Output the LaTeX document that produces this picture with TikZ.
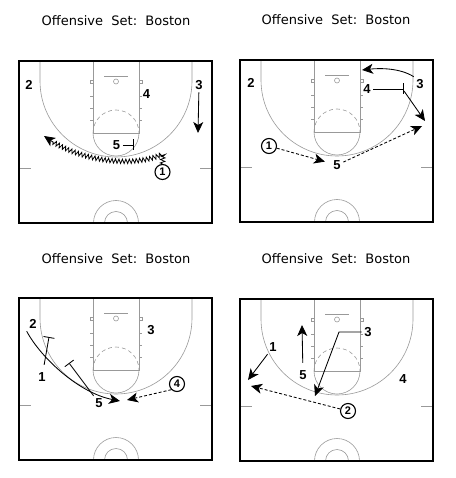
\documentclass[tikz,border=0pt]{standalone}
\usepackage{fontspec}
\setmainfont{DejaVu Sans}
\newfontfamily\numfont{Liberation Sans}
\usetikzlibrary{arrows.meta,decorations.pathmorphing}

\definecolor{courtgray}{gray}{0.6}

% half court, 193 x 162, origin at its top left corner
\newcommand{\halfcourt}{%
  \draw[courtline] (21,0) -- (21,20) arc[start angle=180,end angle=0,radius=76] -- (173,0);
  \draw[courtline] (74,0) -- (74,72) -- (120,72) -- (120,0);
  \draw[courtline] (74,72) arc[start angle=180,end angle=0,radius=23];
  \draw[courtline,dash pattern=on 4pt off 3pt] (74,72) arc[start angle=180,end angle=360,radius=23];
  \draw[courtline] (85,15) -- (109,15);
  \draw[courtline] (97,20.5) circle[radius=2.5];
  \draw[courtline] (71,19.5) rectangle (74,22.5) (120,19.5) rectangle (123,22.5);
  \draw[courtline] (71,35) -- (74,35) (120,35) -- (123,35);
  \draw[courtline] (71,47) -- (74,47) (120,47) -- (123,47);
  \draw[courtline] (71,59) -- (74,59) (120,59) -- (123,59);
  \draw[courtline] (0,107) -- (12,107) (181,107) -- (193,107);
  \draw[courtline] (74.5,162) arc[start angle=180,end angle=360,radius=22.5];
  \draw[courtline] (85.5,162) arc[start angle=180,end angle=360,radius=11.5];
  \draw[line width=1.6pt] (0,0) rectangle (193,162);
}

\begin{document}
\begin{tikzpicture}[x=1pt,y=-1pt,
    >={Stealth[length=11pt,width=10pt,inset=3pt]},
    courtline/.style={courtgray,line width=0.6pt},
    settitle/.style={font=\fontsize{13}{15}\selectfont},
    player/.style={font=\numfont\bfseries\fontsize{13}{13}\selectfont,inner sep=2.5pt},
    ballhandler/.style={circle,draw,line width=1.1pt,inner sep=0pt,minimum size=15pt,
        font=\numfont\bfseries\fontsize{11}{11}\selectfont},
    movecut/.style={->,line width=0.85pt},
    passline/.style={->,line width=0.85pt,dash pattern=on 3pt off 2pt},
    screenline/.style={-{Bar[width=11pt]},line width=0.85pt},
    dribbleline/.style={->,line width=0.8pt,decorate,
        decoration={zigzag,segment length=3.5pt,amplitude=2.2pt,post=lineto,post length=10pt}}]
  \useasboundingbox (0,0) rectangle (455,478);

  \node[settitle] (t1) at (116,21) {Offensive\ \ Set:\ \ Boston};
  \node[settitle] (t2) at (336,20) {Offensive\ \ Set:\ \ Boston};
  \node[settitle] (t3) at (116,259) {Offensive\ \ Set:\ \ Boston};
  \node[settitle] (t4) at (336,259) {Offensive\ \ Set:\ \ Boston};

  % 1 dribbles over, 3 drops down
  \begin{scope}[shift={(19,61)}]
    \halfcourt
    \node[player] (a2) at (10,24) {2};
    \node[player] (a3) at (180,24) {3};
    \node[player] (a4) at (127.5,33) {4};
    \node[player] (a5) at (97.5,84) {5};
    \node[ballhandler] (a1) at (143.5,111) {1};
    \coordinate (a3e) at (179,72);
    \coordinate (a5s) at (115,84);
    \coordinate (a1e) at (25,75);
    \draw[movecut] (a3) -- (a3e);
    \draw[screenline] (a5) -- (a5s);
    \draw[dribbleline] (a1.north) -- (144,93) .. controls (115,107) and (60,101) .. (a1e);
  \end{scope}

  % 1 hits 5, 4 screens for 3
  \begin{scope}[shift={(240,60)}]
    \halfcourt
    \node[player] (b2) at (11,23) {2};
    \node[player] (b3) at (180,24) {3};
    \node[player] (b4) at (127,29) {4};
    \node[player] (b5) at (97,105) {5};
    \node[ballhandler] (b1) at (29,86) {1};
    \coordinate (b3e) at (122,10);
    \coordinate (bS) at (164,29);
    \coordinate (b4e) at (185,61);
    \coordinate (b5e) at (182,66);
    \draw[movecut] (b3.north west) .. controls (160,8) and (140,8) .. (b3e);
    \draw[screenline] (b4) -- (bS);
    \draw[movecut] ([yshift=-2pt]bS) -- (b4e);
    \draw[passline,shorten >=6pt] (b1) -- (b5);
    \draw[passline] (b5) -- (b5e);
  \end{scope}

  % staggered screens for 2
  \begin{scope}[shift={(19,298)}]
    \halfcourt
    \node[player] (c2) at (14,26) {2};
    \node[player] (c1) at (23,79) {1};
    \node[player] (c3) at (132,32) {3};
    \node[player] (c5) at (80,105) {5};
    \node[ballhandler] (c4) at (158,86) {4};
    \coordinate (c2e) at (101,103);
    \coordinate (c1s) at (30,39);
    \coordinate (c5s) at (50,65);
    \coordinate (c4e) at (108,102);
    \draw[movecut] (c2.south west) .. controls (22,60) and (60,95) .. (c2e);
    \draw[screenline,shorten <=5pt] (c1) -- (c1s);
    \draw[screenline] (c5) -- (c5s);
    \draw[passline] (c4.south west) -- (c4e);
  \end{scope}

  % 2 reverses to the wing
  \begin{scope}[shift={(240,299)}]
    \halfcourt
    \node[player] (d1) at (33,48) {1};
    \node[player] (d3) at (128,33) {3};
    \node[player] (d5) at (63,76) {5};
    \node[player] (d4) at (163,80) {4};
    \node[ballhandler] (d2) at (108,112) {2};
    \coordinate (d1e) at (8,81);
    \coordinate (d5e) at (62,26);
    \coordinate (d3k) at (99,33);
    \coordinate (d3e) at (75,97);
    \coordinate (d2e) at (11,87);
    \draw[movecut] (d1) -- (d1e);
    \draw[movecut,shorten <=5pt] (d5) -- (d5e);
    \draw[movecut] (d3) -- (d3k) -- (d3e);
    \draw[passline] (d2) -- (d2e);
  \end{scope}
\end{tikzpicture}
\end{document}
